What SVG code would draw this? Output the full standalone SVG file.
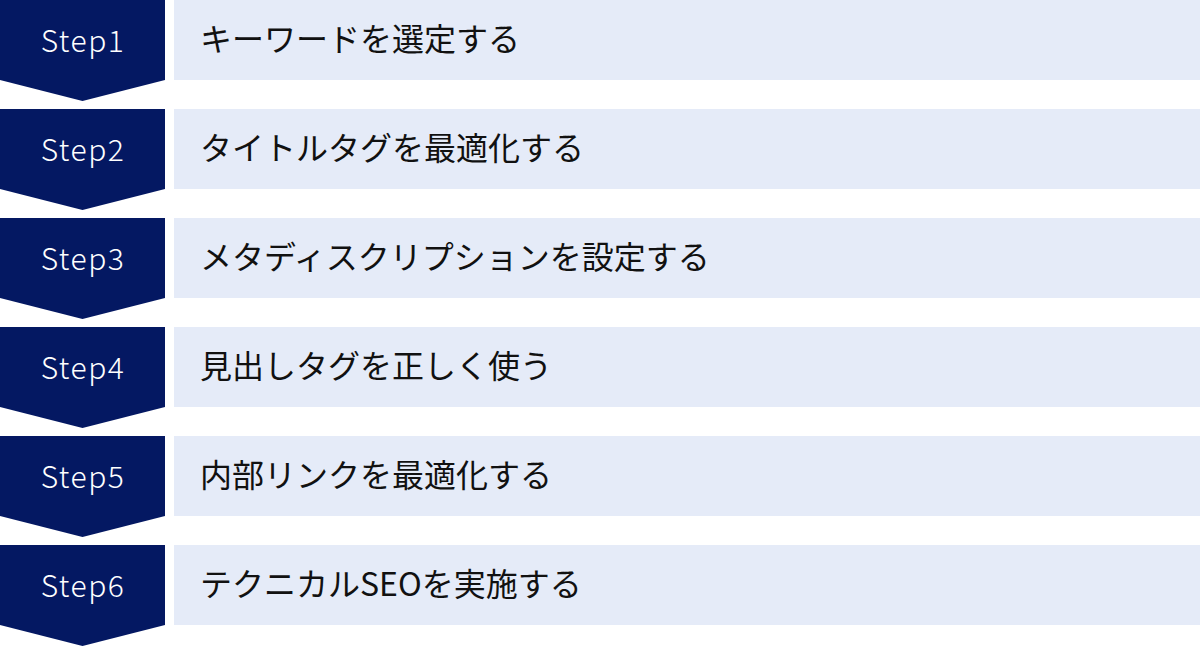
<svg xmlns="http://www.w3.org/2000/svg" width="1200" height="647" viewBox="0 0 1200 647">
<style>
.badge{fill:#041862}
.box{fill:#E5EBF8}
.st{font-family:"Noto Sans CJK JP","Noto Sans",sans-serif;font-size:30px;font-weight:300;fill:#ffffff;text-anchor:middle;letter-spacing:1.5px}
.lb{font-family:"Noto Sans CJK JP",sans-serif;font-size:32px;fill:#111111}
</style>
<defs>
<path id="chev" d="M0 0H165V80L82.5 101L0 80Z"/>
</defs>
<rect width="1200" height="647" fill="#ffffff"/>
<g id="step1" transform="translate(0,0)">
<use href="#chev" class="badge"/><rect class="box" x="174" y="0" width="1026" height="80"/>
<text class="st" x="83" y="52">Step1</text><text class="lb" x="200" y="51">キーワードを選定する</text>
</g>
<g id="step2" transform="translate(0,109)">
<use href="#chev" class="badge"/><rect class="box" x="174" y="0" width="1026" height="80"/>
<text class="st" x="83" y="52">Step2</text><text class="lb" x="200" y="51">タイトルタグを最適化する</text>
</g>
<g id="step3" transform="translate(0,218)">
<use href="#chev" class="badge"/><rect class="box" x="174" y="0" width="1026" height="80"/>
<text class="st" x="83" y="52">Step3</text><text class="lb" x="200" y="51">メタディスクリプションを設定する</text>
</g>
<g id="step4" transform="translate(0,327)">
<use href="#chev" class="badge"/><rect class="box" x="174" y="0" width="1026" height="80"/>
<text class="st" x="83" y="52">Step4</text><text class="lb" x="200" y="51">見出しタグを正しく使う</text>
</g>
<g id="step5" transform="translate(0,436)">
<use href="#chev" class="badge"/><rect class="box" x="174" y="0" width="1026" height="80"/>
<text class="st" x="83" y="52">Step5</text><text class="lb" x="200" y="51">内部リンクを最適化する</text>
</g>
<g id="step6" transform="translate(0,545)">
<use href="#chev" class="badge"/><rect class="box" x="174" y="0" width="1026" height="80"/>
<text class="st" x="83" y="52">Step6</text><text class="lb" x="200" y="51">テクニカルSEOを実施する</text>
</g>
<g id="connectors"></g>
</svg>
